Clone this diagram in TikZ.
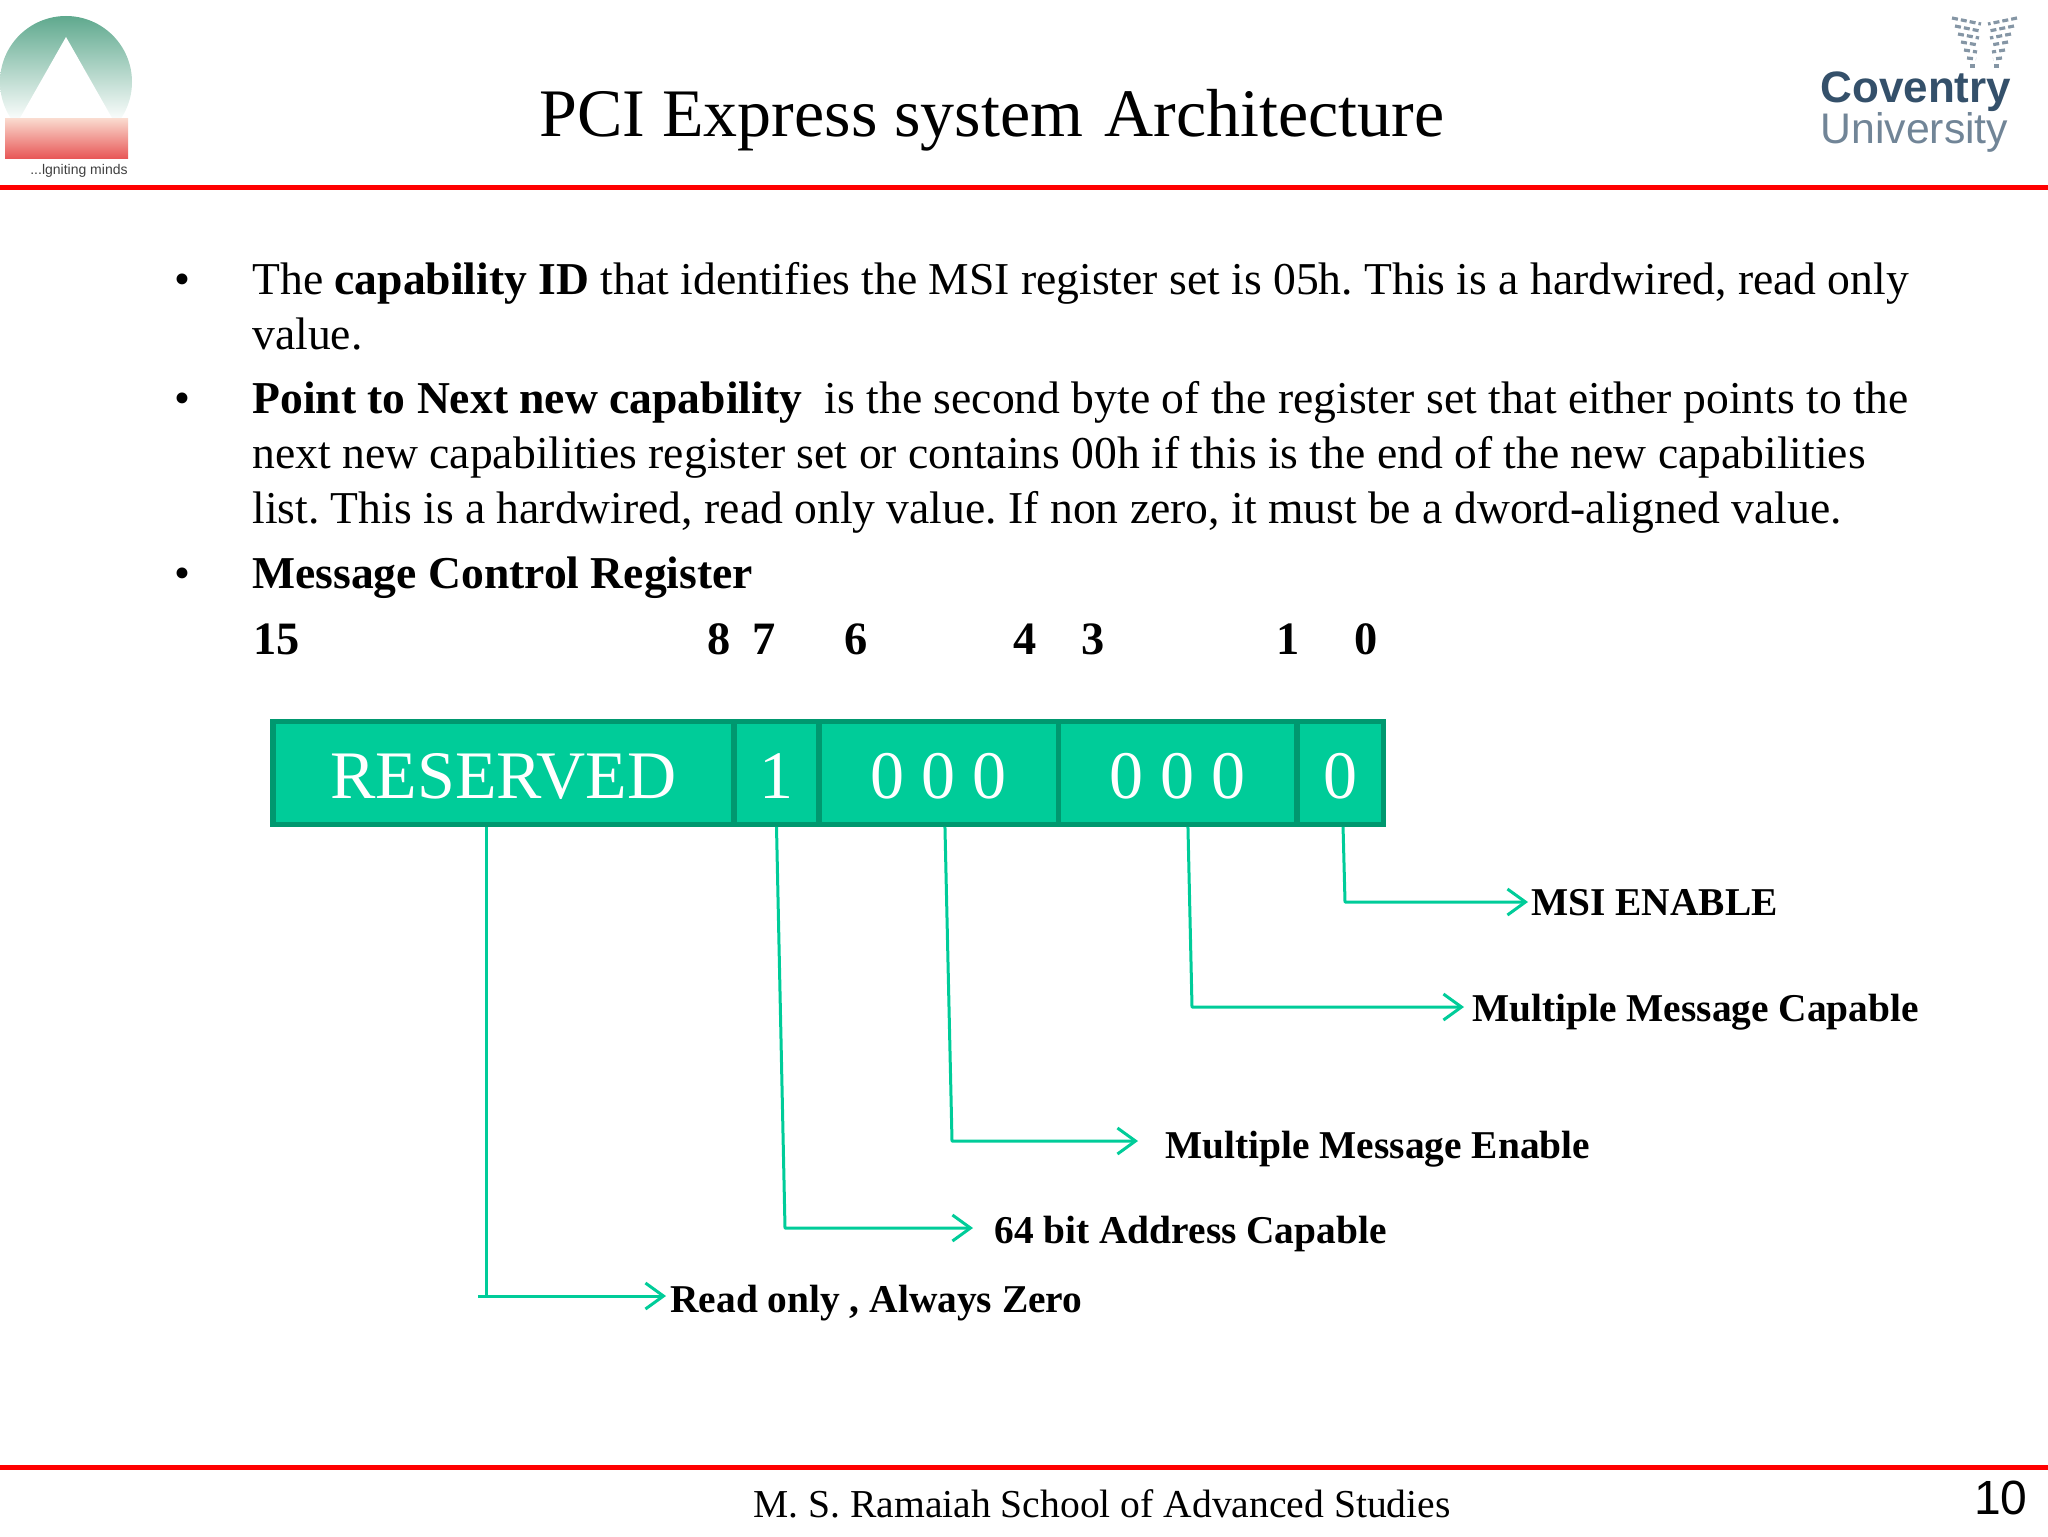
\documentclass[tikz,border=0pt]{standalone}
\usepackage{fontspec}
\setmainfont{Liberation Serif}
\newfontfamily\logofont{Liberation Sans}
\usetikzlibrary{arrows.meta}
\frenchspacing
\definecolor{fieldgreen}{HTML}{00CC99}
\definecolor{edgegreen}{HTML}{00986F}
\definecolor{slidered}{HTML}{FF0000}
\definecolor{crestblue}{HTML}{34506A}
\definecolor{logogreen}{HTML}{5FA98E}
\definecolor{logopale}{HTML}{FADCD0}
\definecolor{logored}{HTML}{E85858}
\begin{document}
\begin{tikzpicture}
    [ x=0.5pt, y=-0.5pt
    , every node/.style={inner sep=0pt, text=black}
    , body/.style={anchor=base west, font=\fontsize{22.8}{26}\selectfont}
    , bit/.style={anchor=base west, font=\fontsize{23.2}{26}\selectfont\bfseries}
    , callout/.style={anchor=base west, font=\fontsize{19.7}{22}\selectfont\bfseries}
    , field/.style={draw=edgegreen, line width=2.7pt, fill=fieldgreen, minimum height=51.25pt, text=white, text height=25.5pt, text depth=0pt, font=\fontsize{34}{40}\selectfont}
    , link/.style={draw=fieldgreen, line width=1.5pt, line join=round, -{Straight Barb[length=9pt,width=13pt,line width=1.5pt]}}
    , redrule/.style={draw=slidered, line width=2.5pt}
    ]

    \useasboundingbox (0,0) rectangle (2048,1536);

    % logo on the left
    \begin{scope}
      \clip (66,82) circle (66);
      \shade [top color=logogreen, bottom color=white] (0,16) rectangle (133,122);
    \end{scope}
    \fill [white] (66,37) -- (112,118) -- (20,118) -- cycle;
    \shade [top color=logopale, bottom color=logored] (5,118) rectangle (128,158);
    \node [anchor=base east, font=\logofont\fontsize{7}{8}\selectfont, text=black!75] (motto) at (128,174) {...lgniting minds};

    % logo on the right
    \foreach \i in {0,...,6} {
      \draw [crestblue!60, line width=1.6pt, dash pattern=on 3pt off 1.5pt] (1952+3*\i,18+8*\i) -- (1981-\i,24+7*\i);
      \draw [crestblue!60, line width=1.6pt, dash pattern=on 3pt off 1.5pt] (2017-3*\i,18+8*\i) -- (1988+\i,24+7*\i);
    }
    \node [anchor=base west, font=\logofont\bfseries\fontsize{22}{26}\selectfont, text=crestblue] (coventry) at (1820,103) {Coventry};
    \node [anchor=base west, font=\logofont\fontsize{21.4}{26}\selectfont, text=crestblue!70] (university) at (1820,143) {University};

    % title and rules
    \node [anchor=base west, font=\fontsize{34}{40}\selectfont] (title) at (539,136) {PCI Express system\hspace{2pt} Architecture};
    \draw [redrule] (0,187) -- (2048,187);
    \draw [redrule] (0,1467) -- (2048,1467);
    \node [anchor=base west, font=\fontsize{19.8}{24}\selectfont] (footer) at (753,1517) {M. S. Ramaiah School of Advanced Studies};
    \node [anchor=base east, font=\logofont\fontsize{24}{28}\selectfont] (pagenum) at (2028,1514) {10};

    % bullets
    \node [body] (dota) at (174,294) {•};
    \node [body] (dotb) at (174,413) {•};
    \node [body] (dotc) at (174,588) {•};

    \path (252,294) node [body] (ida) {The \textbf{capability ID} that identifies the MSI register set is 05h. This is a hardwired, read only}
    -- ++ (0,55) node [body] (idb) {value.}
    ;

    \path (252,413) node [body] (nexta) {\textbf{Point to Next new capability}\ \ is the second byte of the register set that either points to the}
    -- ++ (0,55) node [body] (nextb) {next new capabilities register set or contains 00h if this is the end of the new capabilities}
    -- ++ (0,55) node [body] (nextc) {list. This is a hardwired, read only value. If non zero, it must be a dword-aligned value.}
    ;

    \node [body] (msgctl) at (252,588) {\textbf{Message Control Register}};

    % bit numbers
    \node [bit] (bitfifteen) at (253,654) {15};
    \node [bit] (biteight) at (707,654) {8};
    \node [bit] (bitseven) at (752,654) {7};
    \node [bit] (bitsix) at (844,654) {6};
    \node [bit] (bitfour) at (1013,654) {4};
    \node [bit] (bitthree) at (1081,654) {3};
    \node [bit] (bitone) at (1276,654) {1};
    \node [bit] (bitzero) at (1354,654) {0};

    % register fields
    \node [field, minimum width=230.5pt] (reserved) at (503.5,773) {RESERVED};
    \node [field, minimum width=42.5pt] (capable) at (776.5,773) {1};
    \node [field, minimum width=119.75pt] (enable) at (938.75,773) {0 0 0};
    \node [field, minimum width=119.25pt] (multi) at (1177.75,773) {0 0 0};
    \node [field, minimum width=43.25pt] (msi) at (1340.25,773) {0};

    % callout texts
    \node [callout] (msitext) at (1531,915) {MSI ENABLE};
    \node [callout] (multitext) at (1472,1021) {Multiple Message Capable};
    \node [callout] (enabletext) at (1165,1158) {Multiple Message Enable};
    \node [callout] (capabletext) at (994,1243) {64 bit Address Capable};
    \node [callout] (reservedtext) at (670,1312) {Read only , Always Zero};

    % bends of the connectors
    \coordinate (msibend) at (1345,902);
    \coordinate (multibend) at (1192,1007);
    \coordinate (enablebend) at (952,1141);
    \coordinate (capablebend) at (785,1228);
    \coordinate (reservedbend) at (486,1296);
    \coordinate (reservedtail) at (478,1296);

    \draw [link, shorten >=1.5pt] ([xshift=1.4pt]msi.south) -- (msibend) -- (msibend -| msitext.west);
    \draw [link, shorten >=4pt] ([xshift=5.1pt]multi.south) -- (multibend) -- (multibend -| multitext.west);
    \draw [link, shorten >=13.5pt] ([xshift=3.1pt]enable.south) -- (enablebend) -- (enablebend -| enabletext.west);
    \draw [link, shorten >=10.5pt] (capable.south) -- (capablebend) -- (capablebend -| capabletext.west);
    \draw [link, -] ([xshift=-8.75pt]reserved.south) -- (reservedbend);
    \draw [link, shorten >=2pt] (reservedtail) -- (reservedtail -| reservedtext.west);
  \end{tikzpicture}
\end{document}
